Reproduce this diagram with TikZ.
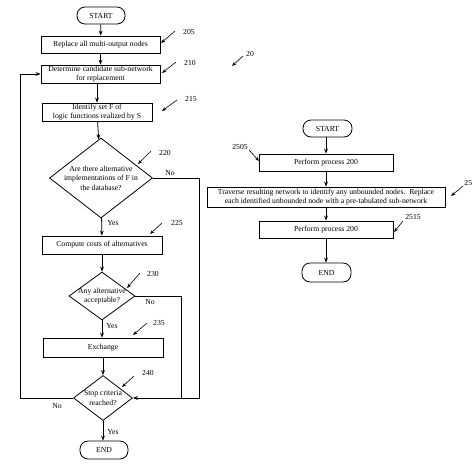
\documentclass[tikz,border=0pt]{standalone}
\usepackage{fontspec}
\setmainfont{Liberation Serif}
\usetikzlibrary{shapes.geometric,arrows.meta}
\newcommand\figfont{\fontsize{7.7}{9.5}\selectfont}
\begin{document}
\begin{tikzpicture}[x=1pt,y=-1pt,line width=0.8pt,
  box/.style={draw,rectangle,inner sep=0pt,align=center,font=\figfont},
  term/.style={draw,rectangle,rounded corners=8pt,inner sep=0pt,font=\figfont,minimum width=48pt,minimum height=17pt},
  dia/.style={draw,diamond,inner sep=0pt},
  txt/.style={inner sep=0pt,align=center,font=\figfont},
  arr/.style={-{Stealth[length=5pt,width=3.8pt]}},
  lead/.style={line width=0.6pt,-{Stealth[length=4.5pt,width=3.4pt]}}]
\useasboundingbox (0,0) rectangle (474,467);
% left flow
\node[term] (s1) at (101,15.5) {START};
\node[box,minimum width=119pt,minimum height=17pt] (b205) at (100.5,44.5) {Replace all multi-output nodes};
\node[box,minimum width=119pt,minimum height=18pt] (b210) at (100.5,74) {Determine candidate sub-network\\for replacement};
\node[box,minimum width=110pt,minimum height=18pt] (b215) at (97,112) {Identify set F of\\logic functions realized by S};
\node[dia,minimum width=103pt,minimum height=80pt] (d220) at (101,178) {};
\node[txt] at (d220) {Are there alternative\\implementations of F in\\the database?};
\node[box,minimum width=120pt,minimum height=18pt] (b225) at (102,245) {Compute costs of alternatives};
\node[dia,minimum width=66pt,minimum height=48pt] (d230) at (102,296) {};
\node[txt] at (d230) {Any alternative\\acceptable?};
\node[box,minimum width=120pt,minimum height=19pt] (b235) at (103,347.5) {Exchange};
\node[dia,minimum width=59pt,minimum height=45pt] (d240) at (103,398) {};
\node[txt] at (d240) {Stop criteria\\reached?};
\node[term,minimum height=18pt] (e1) at (104,450) {END};

\draw[arr] (s1) -- (b205);
\draw[arr] (b205) -- (b210);
\draw[arr] (b210.south -| b215.north) -- (b215);
\draw[arr] (b215) -- (d220);
\draw[arr] (d220) -- (b225);
\draw[arr] (b225.south -| d230.north) -- (d230);
\draw[arr] (d230) -- (b235.north -| d230.south);
\draw[arr] (b235.south -| d240.north) -- (d240);
\draw[arr] (d240) -- (e1.north -| d240.south);

\coordinate (r220) at (199,178);
\coordinate (r230) at (181,296);
\coordinate (l240) at (20,398);
\draw[arr] (d220.east) -- (r220) |- (d240.east);
\draw (d230.east) -- (r230) -- (r230 |- d240.east);
\draw[arr] (d240.west) -- (l240) |- (b210.west);

\node[txt] (n220) at (170,173) {No};
\node[txt] (y220) at (113,223) {Yes};
\node[txt] (n230) at (150,302) {No};
\node[txt] (y230) at (112,326) {Yes};
\node[txt] (n240) at (57,406) {No};
\node[txt] (y240) at (113,432) {Yes};

% reference numerals
\node[txt] (l205) at (189,32) {205};
\coordinate (a205) at (175,31); \coordinate (t205) at (161,43);
\draw[lead] (a205) -- (t205);
\node[txt] (l210) at (190,63) {210};
\coordinate (a210) at (176,62); \coordinate (t210) at (162,73);
\draw[lead] (a210) -- (t210);
\node[txt] (l215) at (191,99) {215};
\coordinate (a215) at (177,100); \coordinate (t215) at (162,111);
\draw[lead] (a215) -- (t215);
\node[txt] (l220) at (165,153) {220};
\coordinate (a220) at (151,151); \coordinate (t220) at (138,164);
\draw[lead] (a220) -- (t220);
\node[txt] (l225) at (177,223) {225};
\coordinate (a225) at (162,223); \coordinate (t225) at (150,234);
\draw[lead] (a225) -- (t225);
\node[txt] (l230) at (153,274) {230};
\coordinate (a230) at (140,273); \coordinate (t230) at (127,288);
\draw[lead] (a230) -- (t230);
\node[txt] (l235) at (159,323) {235};
\coordinate (a235) at (147,323); \coordinate (t235) at (133,335);
\draw[lead] (a235) -- (t235);
\node[txt] (l240) at (148,373) {240};
\coordinate (a240) at (134,376); \coordinate (t240) at (122,387);
\draw[lead] (a240) -- (t240);
\node[txt] (l20) at (250,54) {20};
\coordinate (a20) at (243,56); \coordinate (t20) at (232,66);
\draw[lead] (a20) -- (t20);

% right flow
\node[term,minimum width=49pt] (s2) at (327.5,128.5) {START};
\node[box,minimum width=134pt,minimum height=17pt] (b2505) at (326,162.5) {Perform process 200};
\node[box,minimum width=238pt,minimum height=20pt] (b2510) at (326,197) {Traverse resulting network to identify any unbounded nodes.\ \ Replace\\each identified unbounded node with a pre-tabulated sub-network};
\node[box,minimum width=134pt,minimum height=17pt] (b2515) at (326,229.5) {Perform process 200};
\node[term,minimum width=49pt,minimum height=19pt] (e2) at (326.5,272.5) {END};
\draw[arr] (s2.south -| b2505.north) -- (b2505);
\draw[arr] (b2505) -- (b2510);
\draw[arr] (b2510) -- (b2515);
\draw[arr] (b2515) -- (e2.north -| b2515.south);

\node[txt] (l2505) at (240,147) {2505};
\coordinate (a2505) at (249,150); \coordinate (t2505) at (259,161);
\draw[lead] (a2505) -- (t2505);
\node[txt,anchor=west] (l2510) at (464,183) {25};
\coordinate (a2510) at (463,186); \coordinate (t2510) at (451,196);
\draw[lead] (a2510) -- (t2510);
\node[txt] (l2515) at (413,217) {2515};
\coordinate (a2515) at (403,221); \coordinate (t2515) at (394,232);
\draw[lead] (a2515) -- (t2515);
\end{tikzpicture}
\end{document}
